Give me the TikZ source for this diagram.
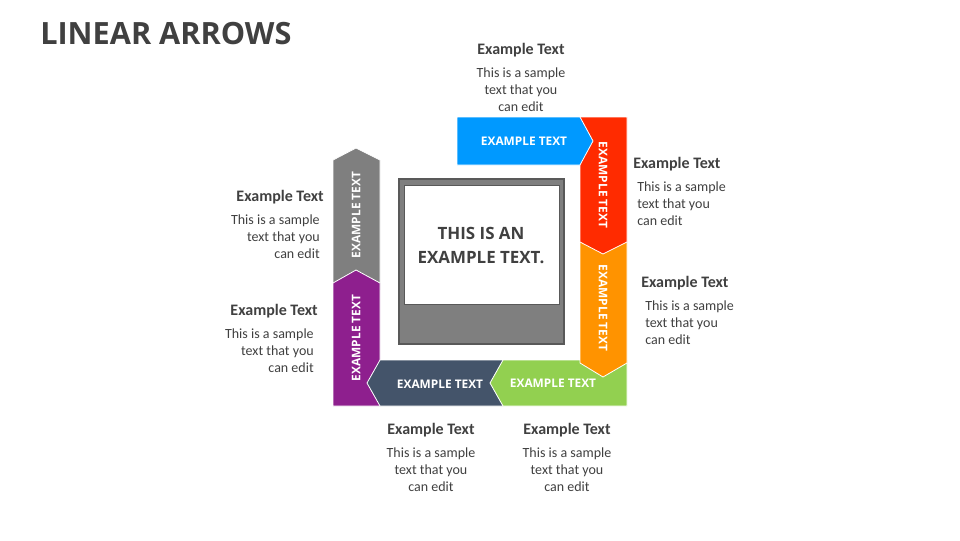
\documentclass[tikz,border=0pt]{standalone}
\usepackage{fontspec}
\setmainfont{Carlito}
\newfontfamily\headfont{Open Sans}
\usepackage{xcolor}
\usepackage{tikz}
\definecolor{ink}{HTML}{404040}
\definecolor{blu}{HTML}{0099FF}
\definecolor{rd}{HTML}{FF2B00}
\definecolor{org}{HTML}{FF9300}
\definecolor{grn}{HTML}{92D050}
\definecolor{slate}{HTML}{44546A}
\definecolor{pur}{HTML}{8E1F8E}
\definecolor{gry}{HTML}{7F7F7F}
\definecolor{dgry}{HTML}{595959}
\tikzset{seg/.style={draw=white,line width=0.6pt,line join=miter},
  tag/.style={text=white,font=\headfont\bfseries\fontsize{8.9}{10}\selectfont,inner sep=0},
  head/.style={text=ink,font=\bfseries\fontsize{12}{14}\selectfont,inner sep=0},
  body/.style={text=ink,font=\fontsize{10.5}{12.75}\selectfont,inner sep=0}}

\begin{document}
\begin{tikzpicture}[x=0.75pt,y=-0.75pt]
    \useasboundingbox (0,0) rectangle (960,540);
    \node[anchor=west,text=ink,font=\headfont\bfseries\fontsize{23}{26}\selectfont,inner sep=0] (title) at (40,34) {LINEAR ARROWS};

    \path[seg,fill=gry] (333,290) -- (333,160) -- (356,148) -- (380,160) -- (380,290) -- cycle;
    \path[seg,fill=pur] (333,406) -- (333,283) -- (356,270) -- (380,283) -- (380,406) -- cycle;
    \path[seg,fill=slate] (503,360) -- (380,360) -- (367,383) -- (380,406) -- (503,406) -- cycle;
    \path[seg,fill=grn] (627,360) -- (503,360) -- (490,383) -- (503,406) -- (627,406) -- cycle;
    \path[seg,fill=org] (580,242) -- (580,363) -- (603,377) -- (627,363) -- (627,242) -- cycle;
    \path[seg,fill=rd] (580,117) -- (580,242) -- (603,254) -- (627,242) -- (627,117) -- cycle;
    \path[seg,fill=blu] (457,117) -- (580,117) -- (593,141) -- (580,165) -- (457,165) -- cycle;

    \node[tag] (tb) at (524,141) {EXAMPLE TEXT};
    \node[tag,rotate=-90] (tr) at (603,185) {EXAMPLE TEXT};
    \node[tag,rotate=-90] (to) at (603,308) {EXAMPLE TEXT};
    \node[tag] (tg) at (553,383) {EXAMPLE TEXT};
    \node[tag] (ts) at (440,384) {EXAMPLE TEXT};
    \node[tag,rotate=90] (tp) at (356,338) {EXAMPLE TEXT};
    \node[tag,rotate=90] (tq) at (356,215) {EXAMPLE TEXT};

    \path[fill=gry,draw=dgry,line width=0.8pt] (399,179) rectangle (564,344);
    \path[fill=white,draw=dgry,line width=0.5pt] (404,185) rectangle (559,304);
    \node[text=ink,align=center,font=\headfont\bfseries\fontsize{12.7}{18}\selectfont,inner sep=0] (msg) at (481,245) {THIS IS AN\\EXAMPLE TEXT.};

    \node[head] (h1) at (521,50) {Example Text};
    \node[body,align=center] (b1) at (521,90) {This is a sample\\text that you\\can edit};
    \node[head,anchor=west] (h2) at (633,164) {Example Text};
    \node[body,align=left,anchor=west] (b2) at (637,204) {This is a sample\\text that you\\can edit};
    \node[head,anchor=west] (h3) at (641,283) {Example Text};
    \node[body,align=left,anchor=west] (b3) at (645,323) {This is a sample\\text that you\\can edit};
    \node[head,anchor=east] (h4) at (324,197) {Example Text};
    \node[body,align=right,anchor=east] (b4) at (320,237) {This is a sample\\text that you\\can edit};
    \node[head,anchor=east] (h5) at (318,311) {Example Text};
    \node[body,align=right,anchor=east] (b5) at (314,351) {This is a sample\\text that you\\can edit};
    \node[head] (h6) at (431,430) {Example Text};
    \node[body,align=center] (b6) at (431,470) {This is a sample\\text that you\\can edit};
    \node[head] (h7) at (567,430) {Example Text};
    \node[body,align=center] (b7) at (567,470) {This is a sample\\text that you\\can edit};
\end{tikzpicture}
\end{document}
